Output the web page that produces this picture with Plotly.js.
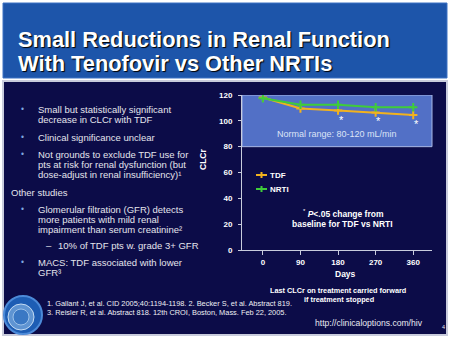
<!DOCTYPE html>
<html>
<head>
<meta charset="utf-8">
<script src="https://cdn.plot.ly/plotly-3.0.1.min.js"></script>
<style>
  html, body { margin: 0; padding: 0; background: #ffffff; }
  #chart { width: 450px; height: 338px; }
</style>
</head>
<body>
<div id="chart"></div>
<script>
// Creatinine clearance over time, TDF vs other NRTIs
const days = [0, 90, 180, 270, 360];
const tdfClcr = [118, 109.5, 108, 106.5, 104.5];
const nrtiClcr = [117.5, 112.5, 112.5, 110.5, 110.5];
const starredDays = [180, 270, 360];
const seriesNames = ['TDF', 'NRTI'];
const seriesColors = ['#F2B21E', '#3FCC3A'];
const yTicks = [0, 20, 40, 60, 80, 100, 120];
const normalRange = [80, 120];

const W = 450, H = 338;
const px = x => x / W;
const py = y => 1 - y / H;

const bold = s => '<b>' + s + '</b>';
const FONT = 'Liberation Sans, Arial, sans-serif';

const traces = [
  {
    x: days, y: tdfClcr, name: seriesNames[0], type: 'scatter', mode: 'lines+markers',
    line: { color: seriesColors[0], width: 2 },
    marker: { symbol: 'cross-thin', size: 6, line: { color: seriesColors[0], width: 2 } },
    showlegend: false, hoverinfo: 'skip'
  },
  {
    x: days, y: nrtiClcr, name: seriesNames[1], type: 'scatter', mode: 'lines+markers',
    line: { color: seriesColors[1], width: 2 },
    marker: { symbol: 'cross-thin', size: 6, line: { color: seriesColors[1], width: 2 } },
    showlegend: false, hoverinfo: 'skip'
  }
];

const shapes = [
  // slide header band
  { type: 'rect', xref: 'paper', yref: 'paper', x0: px(3), x1: px(447), y0: py(78), y1: py(3),
    fillcolor: '#1D55AA', line: { color: '#3C72C4', width: 1 }, layer: 'below' },
  // body panel with light frame
  { type: 'rect', xref: 'paper', yref: 'paper', x0: px(2), x1: px(448), y0: py(336), y1: py(80),
    fillcolor: '#C9CCDC', line: { width: 0 }, layer: 'below' },
  { type: 'rect', xref: 'paper', yref: 'paper', x0: px(4), x1: px(446), y0: py(334), y1: py(82),
    fillcolor: '#0C0C48', line: { width: 0 }, layer: 'below' },
  // normal range band
  { type: 'rect', xref: 'x domain', yref: 'y', x0: 0, x1: 1, y0: normalRange[0], y1: normalRange[1],
    fillcolor: '#5270C6', line: { color: '#A9B8E6', width: 1 }, layer: 'below' },
  // logo disc
  { type: 'circle', xref: 'paper', yref: 'paper', x0: px(4), x1: px(42), y0: py(334), y1: py(296),
    fillcolor: '#1D5DB4', line: { color: '#4C8AD8', width: 2 }, layer: 'below' },
  { type: 'circle', xref: 'paper', yref: 'paper', x0: px(8), x1: px(34), y0: py(330), y1: py(304),
    fillcolor: '#5F94D2', line: { color: '#C4DCF4', width: 1 }, layer: 'below' },
  { type: 'circle', xref: 'paper', yref: 'paper', x0: px(13), x1: px(29), y0: py(325), y1: py(309),
    fillcolor: '#3A78C4', line: { color: '#9CC2EA', width: 1 }, layer: 'below' }
];

// legend glyphs
const legendRows = [175, 189];
legendRows.forEach((yy, i) => {
  shapes.push({ type: 'line', xref: 'paper', yref: 'paper', x0: px(256), x1: px(267), y0: py(yy), y1: py(yy),
    line: { color: seriesColors[i], width: 2 } });
  shapes.push({ type: 'line', xref: 'paper', yref: 'paper', x0: px(261.5), x1: px(261.5), y0: py(yy - 3), y1: py(yy + 3),
    line: { color: seriesColors[i], width: 2 } });
});

const annotations = [];
function txt(x, y, text, size, opts) {
  annotations.push(Object.assign({
    xref: 'paper', yref: 'paper', x: px(x), y: py(y), text: text, showarrow: false,
    xanchor: 'left', yanchor: 'middle',
    font: { family: FONT, size: size, color: '#FFFFFF' }
  }, opts || {}));
}

// header title
const titleFont = { family: FONT, size: 21.8, color: '#FFFFFF', weight: 'bold', shadow: '1px 1px 1px #000000' };
txt(16, 40, 'Small Reductions in Renal Function', 21.8, { font: titleFont });
txt(16, 64, 'With Tenofovir vs Other NRTIs', 21.8, { font: titleFont });

// bullet text
const bodyColor = '#E4E4EC';
const bulletColor = '#7FA8E0';
const BS = 9.5;
const body = (x, y, s) => txt(x, y, s, BS, { font: { family: FONT, size: BS, color: bodyColor } });
const bullet = y => txt(19, y, '•', 8.5, { font: { family: FONT, size: 8.5, color: bulletColor } });

bullet(109); body(36, 109, 'Small but statistically significant');
body(36, 119, 'decrease in CLCr with TDF');
bullet(137); body(36, 137, 'Clinical significance unclear');
bullet(154); body(36, 154, 'Not grounds to exclude TDF use for');
body(36, 164, 'pts at risk for renal dysfunction (but');
body(36, 174, 'dose-adjust in renal insufficiency)¹');
body(9, 192, 'Other studies');
bullet(209); body(36, 209, 'Glomerular filtration (GFR) detects');
body(36, 219, 'more patients with mild renal');
body(36, 229, 'impairment than serum creatinine²');
body(44, 245, '–');
body(56, 245, '10% of TDF pts w. grade 3+ GFR');
bullet(262); body(36, 262, 'MACS: TDF associated with lower');
body(36, 272, 'GFR³');

// references and footer
const refFont = { family: FONT, size: 7.4, color: '#F0F0F4' };
txt(45, 303, '1. Gallant J, et al. CID 2005;40:1194-1198. 2. Becker S, et al. Abstract 819.', 7.4, { font: refFont });
txt(45, 312, '3. Reisler R, et al. Abstract 818. 12th CROI, Boston, Mass. Feb 22, 2005.', 7.4, { font: refFont });
txt(425, 323, 'http://clinicaloptions.com/hiv', 8.6, { xanchor: 'right', font: { family: FONT, size: 8.6, color: '#E8E8F0' } });
txt(443, 327, '4', 5.5, { xanchor: 'center', font: { family: FONT, size: 5.5, color: '#E8E8F0' } });

// chart texts
txt(337, 134, 'Normal range: 80-120 mL/min', 9, { xanchor: 'center', font: { family: FONT, size: 9, color: '#DCE4F6' } });
seriesNames.forEach((n, i) => txt(268, legendRows[i], bold(n), 8, { font: { family: FONT, size: 8, color: '#FFFFFF' } }));
txt(343, 213, '<sup>*</sup> ' + bold('<i>P</i>&lt;.05 change from'), 8.5, { xanchor: 'center' });
txt(342, 224, bold('baseline for TDF vs NRTI'), 8.5, { xanchor: 'center' });
txt(345, 274, bold('Days'), 8.5, { xanchor: 'center' });
txt(338, 290, bold('Last CLCr on treatment carried forward'), 7.3, { xanchor: 'center' });
txt(339, 299, bold('if treatment stopped'), 7.3, { xanchor: 'center' });
txt(203, 160, bold('CLCr'), 8.5, { xanchor: 'center', textangle: -90 });

// significance stars below TDF points
starredDays.forEach(d => {
  const i = days.indexOf(d);
  annotations.push({ xref: 'x', yref: 'y', x: d, y: tdfClcr[i], text: '*', showarrow: false,
    xshift: 3, yshift: -9, font: { family: FONT, size: 11, color: '#FFFFFF' } });
});

const axisColor = '#C8CCDC';
const layout = {
  width: W, height: H,
  margin: { l: 0, r: 0, t: 0, b: 0 },
  paper_bgcolor: '#FFFFFF',
  plot_bgcolor: 'rgba(0,0,0,0)',
  showlegend: false,
  xaxis: {
    domain: [px(242), px(432)], range: [-50, 405],
    tickvals: days, ticktext: days.map(d => bold(String(d))),
    ticks: 'outside', ticklen: 4, tickcolor: axisColor, tickwidth: 1,
    showline: true, linecolor: axisColor, linewidth: 1,
    showgrid: false, zeroline: false,
    tickfont: { family: FONT, size: 8, color: '#FFFFFF' }
  },
  yaxis: {
    domain: [py(250), py(95)], range: [0, 120],
    tickvals: yTicks, ticktext: yTicks.map(v => bold(String(v))),
    ticks: 'outside', ticklen: 3, tickcolor: axisColor, tickwidth: 1,
    ticklabelstandoff: 4,
    showline: true, linecolor: axisColor, linewidth: 1,
    showgrid: false, zeroline: false,
    tickfont: { family: FONT, size: 8, color: '#FFFFFF' }
  },
  shapes: shapes,
  annotations: annotations
};

Plotly.newPlot('chart', traces, layout, { staticPlot: true, displayModeBar: false });
</script>
</body>
</html>
